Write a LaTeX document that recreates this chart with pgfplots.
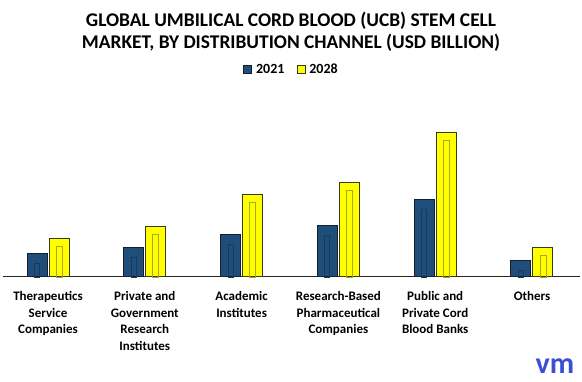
\documentclass[border=0pt]{standalone}
\usepackage{fontspec}
\setmainfont{Carlito}
\usepackage{pgfplots}
\usepackage{pgfplotstable}
\pgfplotsset{compat=1.18}
\definecolor{cblue}{HTML}{1F4E7A}
\definecolor{cblueedge}{HTML}{17202A}
\definecolor{cbluein}{HTML}{163A5E}
\definecolor{cyel}{HTML}{FFFF00}
\definecolor{cyeledge}{HTML}{3A3A14}
\definecolor{cyelin}{HTML}{A8A820}
\definecolor{logo}{HTML}{3A4ED6}
\pgfplotstableread{
x v2021 v2028
0 23 38
1 29 50
2 42 82
3 51 94
4 77 144
5 16 29
}\data
\pgfplotstableread{
x i2021 i2028
0 14 31
1 20 43
2 33 75
3 42 87
4 68 137
5 7 22
}\inner
\begin{document}
\begin{tikzpicture}[x=1pt,y=1pt]
\path[use as bounding box] (0,0) rectangle (582,382);
\node[font=\bfseries\fontsize{19.4}{22.5}\selectfont, align=center] at (291,350) {GLOBAL UMBILICAL CORD BLOOD (UCB) STEM CELL\\MARKET, BY DISTRIBUTION CHANNEL (USD BILLION)};
\node[font=\bfseries\fontsize{30}{30}\selectfont, text=logo] at (555,16) {vm};
\begin{axis}[
  at={(3pt,105pt)}, anchor=south west,
  scale only axis, width=577pt, height=150pt,
  xmin=-0.465, xmax=5.496, ymin=0, ymax=150,
  axis x line=bottom, axis y line=none,
  x axis line style={-, line width=1pt, black!85},
  xtick=data, xtick style={draw=none}, ytick=\empty,
  xticklabels={{Therapeutics\\Service\\Companies},{Private and\\Government\\Research\\Institutes},{Academic\\Institutes},{Research-Based\\Pharmaceutical\\Companies},{Public and\\Private Cord\\Blood Banks},{Others}},
  xticklabel style={font=\bfseries\fontsize{13}{16.5}\selectfont, align=center, yshift=-9pt},
  legend style={at={(0.5,1)}, anchor=south, yshift=48pt, draw=none, font=\bfseries\fontsize{14}{14}\selectfont, legend columns=2, /tikz/every even column/.append style={column sep=10pt}},
  legend image code/.code={\draw[#1, line width=0.8pt] (0pt,-4pt) rectangle (8pt,4pt); \path (10pt,0pt);},
  clip=false,
]
\addplot[ybar, bar width=20pt, bar shift=-11pt, fill=cblue, draw=cblueedge, line width=1pt] table[x=x, y=v2021] {\data};
\addlegendentry{2021}
\addplot[ybar, bar width=20pt, bar shift=11pt, fill=cyel, draw=cyeledge, line width=1pt] table[x=x, y=v2028] {\data};
\addlegendentry{2028}
\addplot[ybar, bar width=5pt, bar shift=-11pt, fill=none, draw=cbluein, line width=0.8pt, forget plot] table[x=x, y=i2021] {\inner};
\addplot[ybar, bar width=6pt, bar shift=11pt, fill=none, draw=cyelin, line width=0.8pt, forget plot] table[x=x, y=i2028] {\inner};
\end{axis}
\end{tikzpicture}
\end{document}
